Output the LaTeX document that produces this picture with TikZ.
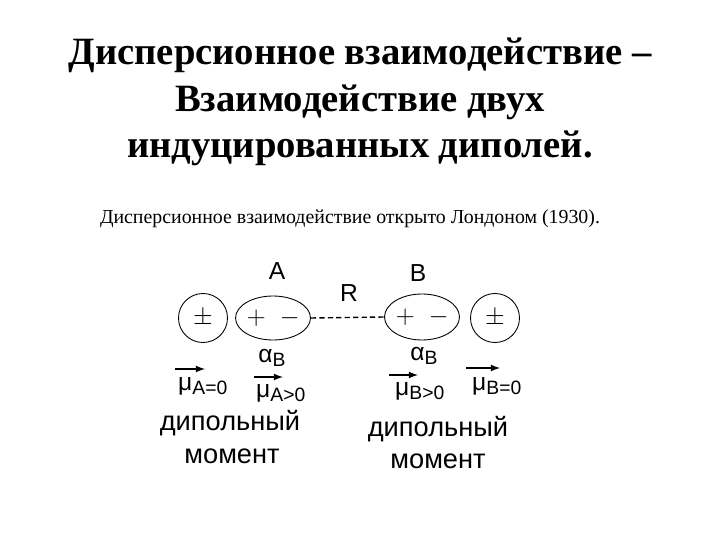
\documentclass[tikz,border=0pt]{standalone}
\usepackage{fontspec}
\setmainfont{Liberation Serif}
\setsansfont{Liberation Sans}
\usetikzlibrary{shapes.geometric}
\newcommand{\sbx}[1]{\raisebox{-0.35ex}{\fontsize{11}{12}\selectfont #1}}
\begin{document}
\begin{tikzpicture}[x=0.02cm,y=-0.02cm,
 ttl/.style={font=\fontsize{22}{26}\selectfont\bfseries},
 lab/.style={font=\sffamily\fontsize{14}{16}\selectfont},
 big/.style={font=\sffamily\fontsize{15.5}{18}\selectfont},
 atom/.style={draw,line width=0.5pt,font=\fontsize{14}{16}\selectfont},
 mu/.style={-latex,line width=0.8pt}]
\useasboundingbox (0,0) rectangle (720,540);
\node[ttl] (t1) at (360,55) {Дисперсионное взаимодействие –};
\node[ttl] (t2) at (360,102) {Взаимодействие двух};
\node[ttl] (t3) at (360,148) {индуцированных диполей.};
\node[font=\fontsize{11.3}{13}\selectfont] (sub) at (350,219) {Дисперсионное взаимодействие открыто Лондоном (1930).};
\node[atom,circle,minimum size=49*0.02cm] (c1) at (203,318) {$\pm$};
\node[atom,ellipse,minimum width=60*0.02cm,minimum height=44*0.02cm,inner sep=0pt] (ea) at (273,318) {$+\;\;-$};
\node[atom,ellipse,minimum width=60*0.02cm,minimum height=46*0.02cm,inner sep=0pt] (eb) at (422,317) {$+\;\;-$};
\node[atom,circle,minimum size=49*0.02cm] (c4) at (495,318) {$\pm$};
\draw[dash pattern=on 3pt off 1.8pt,line width=0.8pt] (ea.east) -- (eb.west);
\node[lab] (la) at (277,271) {A};
\node[lab] (lb) at (418,273) {B};
\node[lab] (lr) at (349,293) {R};
\node[lab] (aa) at (272,358) {α\sbx{B}};
\node[lab] (ab) at (424,356) {α\sbx{B}};
\node[lab,anchor=west] (m1) at (172,386) {μ\sbx{A=0}};
\node[lab,anchor=west] (m2) at (250,393) {μ\sbx{A>0}};
\node[lab,anchor=west] (m3) at (389,391) {μ\sbx{B>0}};
\node[lab,anchor=west] (m4) at (466,386) {μ\sbx{B=0}};
\coordinate (a1s) at (175,369); \coordinate (a1e) at (205,369);
\coordinate (a2s) at (254,377); \coordinate (a2e) at (283,377);
\coordinate (a3s) at (389,375); \coordinate (a3e) at (418,375);
\coordinate (a4s) at (466,368); \coordinate (a4e) at (500,368);
\draw[mu] (a1s) -- (a1e);
\draw[mu] (a2s) -- (a2e);
\draw[mu] (a3s) -- (a3e);
\draw[mu] (a4s) -- (a4e);
\node[big] (d1) at (230,423) {дипольный};
\node[big] (d2) at (232,456) {момент};
\node[big] (d3) at (438,429) {дипольный};
\node[big] (d4) at (438,461) {момент};
\end{tikzpicture}
\end{document}
